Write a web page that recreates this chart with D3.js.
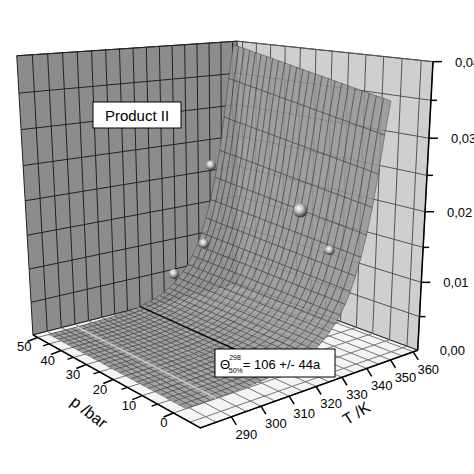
<!DOCTYPE html>
<html><head><meta charset="utf-8">
<script src="https://cdn.jsdelivr.net/npm/d3@7"></script>
<style>body{margin:0;background:#fff}text{font-family:"Liberation Sans",Arial,sans-serif}</style>
</head><body><div id="chart"></div>
<script>
// axis ranges and ticks
const tDomain = [280, 362]
const pDomain = [-8, 52]
const zDomain = [0, 0.04]
const tTicks = [290, 300, 310, 320, 330, 340, 350, 360]
const pTicks = [0, 10, 20, 30, 40, 50]
const zTicks = [0, 0.01, 0.02, 0.03, 0.04]

// surface: z(T) along p = 0 and relative rise with p
const surfT = d3.range(284, 359, 2)
const surfZ = [0.00002, 0.00003, 0.00003, 0.00004, 0.00005, 0.00006, 0.00007, 0.00009,
  0.00011, 0.00014, 0.00017, 0.00020, 0.00025, 0.00030, 0.00037, 0.00045, 0.00056, 0.00068,
  0.00083, 0.00101, 0.00124, 0.00151, 0.00184, 0.00225, 0.00275, 0.00335, 0.00410, 0.00500,
  0.00610, 0.00745, 0.00910, 0.0111, 0.0136, 0.0166, 0.0203, 0.0248, 0.0300, 0.0345]
const surfP = d3.range(0, 51, 2)
const surfPFactor = [1.000, 1.006, 1.012, 1.018, 1.024, 1.030, 1.036, 1.042, 1.048, 1.054,
  1.060, 1.066, 1.072, 1.078, 1.084, 1.090, 1.096, 1.102, 1.108, 1.114,
  1.120, 1.126, 1.132, 1.138, 1.144, 1.150]

// measured points (T, p, z)
const ptT = [327, 334, 346, 350, 352]
const ptP = [45, 40, 48, 20, 12]
const ptZ = [0.0060, 0.0110, 0.0215, 0.0175, 0.0125]
const ptR = [5, 5, 5, 7, 5]

const W = 474, H = 474
const svg = d3.select("#chart").append("svg").attr("width", W).attr("height", H)

const sx = d3.scaleLinear().domain(tDomain).range([0, 1])
const sy = d3.scaleLinear().domain(pDomain).range([0, 1])
const sz = d3.scaleLinear().domain(zDomain).range([0, 1])

// fit a perspective camera to the box corners seen in the picture
const anchors = [
  [0, 0, 0, 200, 435], [0, 1, 0, 33, 328], [1, 0, 0, 418, 343], [1, 1, 0, 237, 290],
  [0, 1, 1, 17, 57], [1, 1, 1, 237, 39], [1, 0, 1, 433, 63]
]
function fitCamera(pts) {
  const A = [], b = []
  pts.forEach(([X, Y, Z, u, v]) => {
    A.push([X, Y, Z, 1, 0, 0, 0, 0, -u * X, -u * Y, -u * Z]); b.push(u)
    A.push([0, 0, 0, 0, X, Y, Z, 1, -v * X, -v * Y, -v * Z]); b.push(v)
  })
  const n = 11
  const M = d3.range(n).map(i => d3.range(n + 1).map(j => {
    let s = 0
    A.forEach((r, k) => { s += r[i] * (j < n ? r[j] : b[k]) })
    return s
  }))
  for (let i = 0; i < n; i++) {
    let piv = i
    for (let k = i + 1; k < n; k++) if (Math.abs(M[k][i]) > Math.abs(M[piv][i])) piv = k
    ;[M[i], M[piv]] = [M[piv], M[i]]
    for (let k = 0; k < n; k++) {
      if (k === i) continue
      const f = M[k][i] / M[i][i]
      for (let j = i; j <= n; j++) M[k][j] -= f * M[i][j]
    }
  }
  return M.map((r, i) => r[n] / r[i])
}
const m = fitCamera(anchors)
function proj(X, Y, Z) {
  const w = m[8] * X + m[9] * Y + m[10] * Z + 1
  return [(m[0] * X + m[1] * Y + m[2] * Z + m[3]) / w, (m[4] * X + m[5] * Y + m[6] * Z + m[7]) / w]
}
const P = (T, p, z) => proj(sx(T), sy(p), sz(Math.min(z, zDomain[1])))
const line = d3.line()
const poly = pts => line(pts) + "Z"

// walls
svg.append("path").attr("d", poly([P(280, 52, 0), P(362, 52, 0), P(362, 52, 0.04), P(280, 52, 0.04)]))
  .attr("fill", "#8c8c8c").attr("stroke", "#222")
svg.append("path").attr("d", poly([P(362, 52, 0), P(362, -8, 0), P(362, -8, 0.04), P(362, 52, 0.04)]))
  .attr("fill", "#cfcfcf").attr("stroke", "#444")
svg.append("path").attr("d", poly([P(280, -8, 0), P(362, -8, 0), P(362, 52, 0), P(280, 52, 0)]))
  .attr("fill", "#f4f4f4").attr("stroke", "#222")

const gridT = d3.range(285, 362, 5)
const gridP = d3.range(-5, 52, 5)
const gridZ = d3.range(0.005, 0.04, 0.005)
const grid = svg.append("g").attr("fill", "none")
gridT.forEach(t => {
  grid.append("path").attr("d", line([P(t, 52, 0), P(t, 52, 0.04)])).attr("stroke", "#222").attr("stroke-width", 1)
  grid.append("path").attr("d", line([P(t, -8, 0), P(t, 52, 0)])).attr("stroke", "#777").attr("stroke-width", 1)
})
gridP.forEach(p => {
  grid.append("path").attr("d", line([P(362, p, 0), P(362, p, 0.04)])).attr("stroke", "#555")
  grid.append("path").attr("d", line([P(280, p, 0), P(362, p, 0)])).attr("stroke", "#777")
})
gridZ.forEach(z => {
  grid.append("path").attr("d", line([P(280, 52, z), P(362, 52, z)])).attr("stroke", "#222")
  grid.append("path").attr("d", line([P(362, 52, z), P(362, -8, z)])).attr("stroke", "#555")
})

// surface quads, back to front
const quads = []
for (let i = 0; i < surfT.length - 1; i++) {
  for (let j = 0; j < surfP.length - 1; j++) {
    const z = (a, b) => surfZ[a] * surfPFactor[b]
    quads.push({
      depth: sx(surfT[i]) + sy(surfP[j]),
      pts: [P(surfT[i], surfP[j], z(i, j)), P(surfT[i + 1], surfP[j], z(i + 1, j)),
        P(surfT[i + 1], surfP[j + 1], z(i + 1, j + 1)), P(surfT[i], surfP[j + 1], z(i, j + 1))]
    })
  }
}
quads.sort((a, b) => b.depth - a.depth)
svg.append("g").selectAll("path").data(quads).join("path")
  .attr("d", d => poly(d.pts))
  .attr("fill", "rgba(150,150,150,0.85)")
  .attr("stroke", "#333").attr("stroke-width", 0.45)

// iso lines on the floor part of the surface
const isoLine = (t, col, w) => {
  const i = surfT.indexOf(t)
  svg.append("path").attr("d", line(surfP.map((p, j) => P(t, p, surfZ[i] * surfPFactor[j]))))
    .attr("fill", "none").attr("stroke", col).attr("stroke-width", w)
}
isoLine(294, "#ccc", 1.5)
isoLine(318, "#111", 1.5)

// data spheres
const defs = svg.append("defs")
const grad = defs.append("radialGradient").attr("id", "ball").attr("cx", "40%").attr("cy", "35%").attr("r", "65%")
grad.append("stop").attr("offset", "0%").attr("stop-color", "#fff")
grad.append("stop").attr("offset", "45%").attr("stop-color", "#bbb")
grad.append("stop").attr("offset", "100%").attr("stop-color", "#333")
svg.append("g").selectAll("circle").data(ptT).join("circle")
  .attr("cx", (d, i) => P(d, ptP[i], ptZ[i])[0])
  .attr("cy", (d, i) => P(d, ptP[i], ptZ[i])[1])
  .attr("r", (d, i) => ptR[i])
  .attr("fill", "url(#ball)")

// axes
const ax = svg.append("g").attr("stroke", "#000").attr("stroke-width", 1.5).attr("fill", "none")
ax.append("path").attr("d", line([P(280, 52, 0), P(280, -8, 0), P(362, -8, 0)]))
ax.append("path").attr("d", line([P(362, -8, 0), P(362, -8, 0.04)]))
pTicks.forEach(p => {
  const q = P(280, p, 0)
  ax.append("path").attr("d", line([q, [q[0] - 10, q[1] + 4]]))
  svg.append("text").attr("x", q[0] - 6).attr("y", q[1] + 14)
    .attr("text-anchor", "end").attr("font-size", 13).text(p)
})
d3.range(5, 51, 10).forEach(p => {
  const q = P(280, p, 0)
  ax.append("path").attr("d", line([q, [q[0] - 6, q[1] + 2]]))
})
tTicks.forEach(t => {
  const q = P(t, -8, 0)
  ax.append("path").attr("d", line([q, [q[0] + 5, q[1] + 8]]))
  svg.append("text").attr("x", q[0] + 15).attr("y", q[1] + 22)
    .attr("text-anchor", "middle").attr("font-size", 13).text(t)
})
d3.range(0.005, 0.041, 0.005).forEach((z, i) => {
  const q = P(362, -8, z), major = i % 2 === 1
  ax.append("path").attr("d", line([q, [q[0] + (major ? 9 : 6), q[1]]]))
})
const fmt = d3.format(".2f")
zTicks.forEach(z => {
  const q = P(362, -8, z)
  svg.append("text").attr("x", q[0] + 22).attr("y", q[1] + 5).attr("font-size", 13).text(fmt(z).replace(".", ","))
})

const pt = P(280, 22, 0), tt = P(325, -8, 0)
svg.append("text").attr("transform", `translate(${pt[0] - 22},${pt[1] + 40}) rotate(38)`)
  .attr("text-anchor", "middle").attr("font-size", 16).text("p /bar")
svg.append("text").attr("transform", `translate(${tt[0] + 30},${tt[1] + 36}) rotate(-32)`)
  .attr("text-anchor", "middle").attr("font-size", 16).text("T /K")

// label boxes
svg.append("rect").attr("x", 93).attr("y", 102).attr("width", 88).attr("height", 26).attr("fill", "#fff").attr("stroke", "#000")
svg.append("text").attr("x", 137).attr("y", 121).attr("text-anchor", "middle").attr("font-size", 15).text("Product II")
svg.append("rect").attr("x", 215).attr("y", 349).attr("width", 120).attr("height", 28).attr("fill", "#fff").attr("stroke", "#000")
const lab = svg.append("text").attr("x", 220).attr("y", 369).attr("font-size", 13)
lab.append("tspan").text("Θ")
lab.append("tspan").attr("font-size", 7).attr("dx", -1).attr("dy", -9).text("298")
lab.append("tspan").attr("font-size", 7).attr("dx", -12).attr("dy", 13).text("50%")
lab.append("tspan").attr("dy", -4).text("= 106 +/- 44a")
</script></body></html>
